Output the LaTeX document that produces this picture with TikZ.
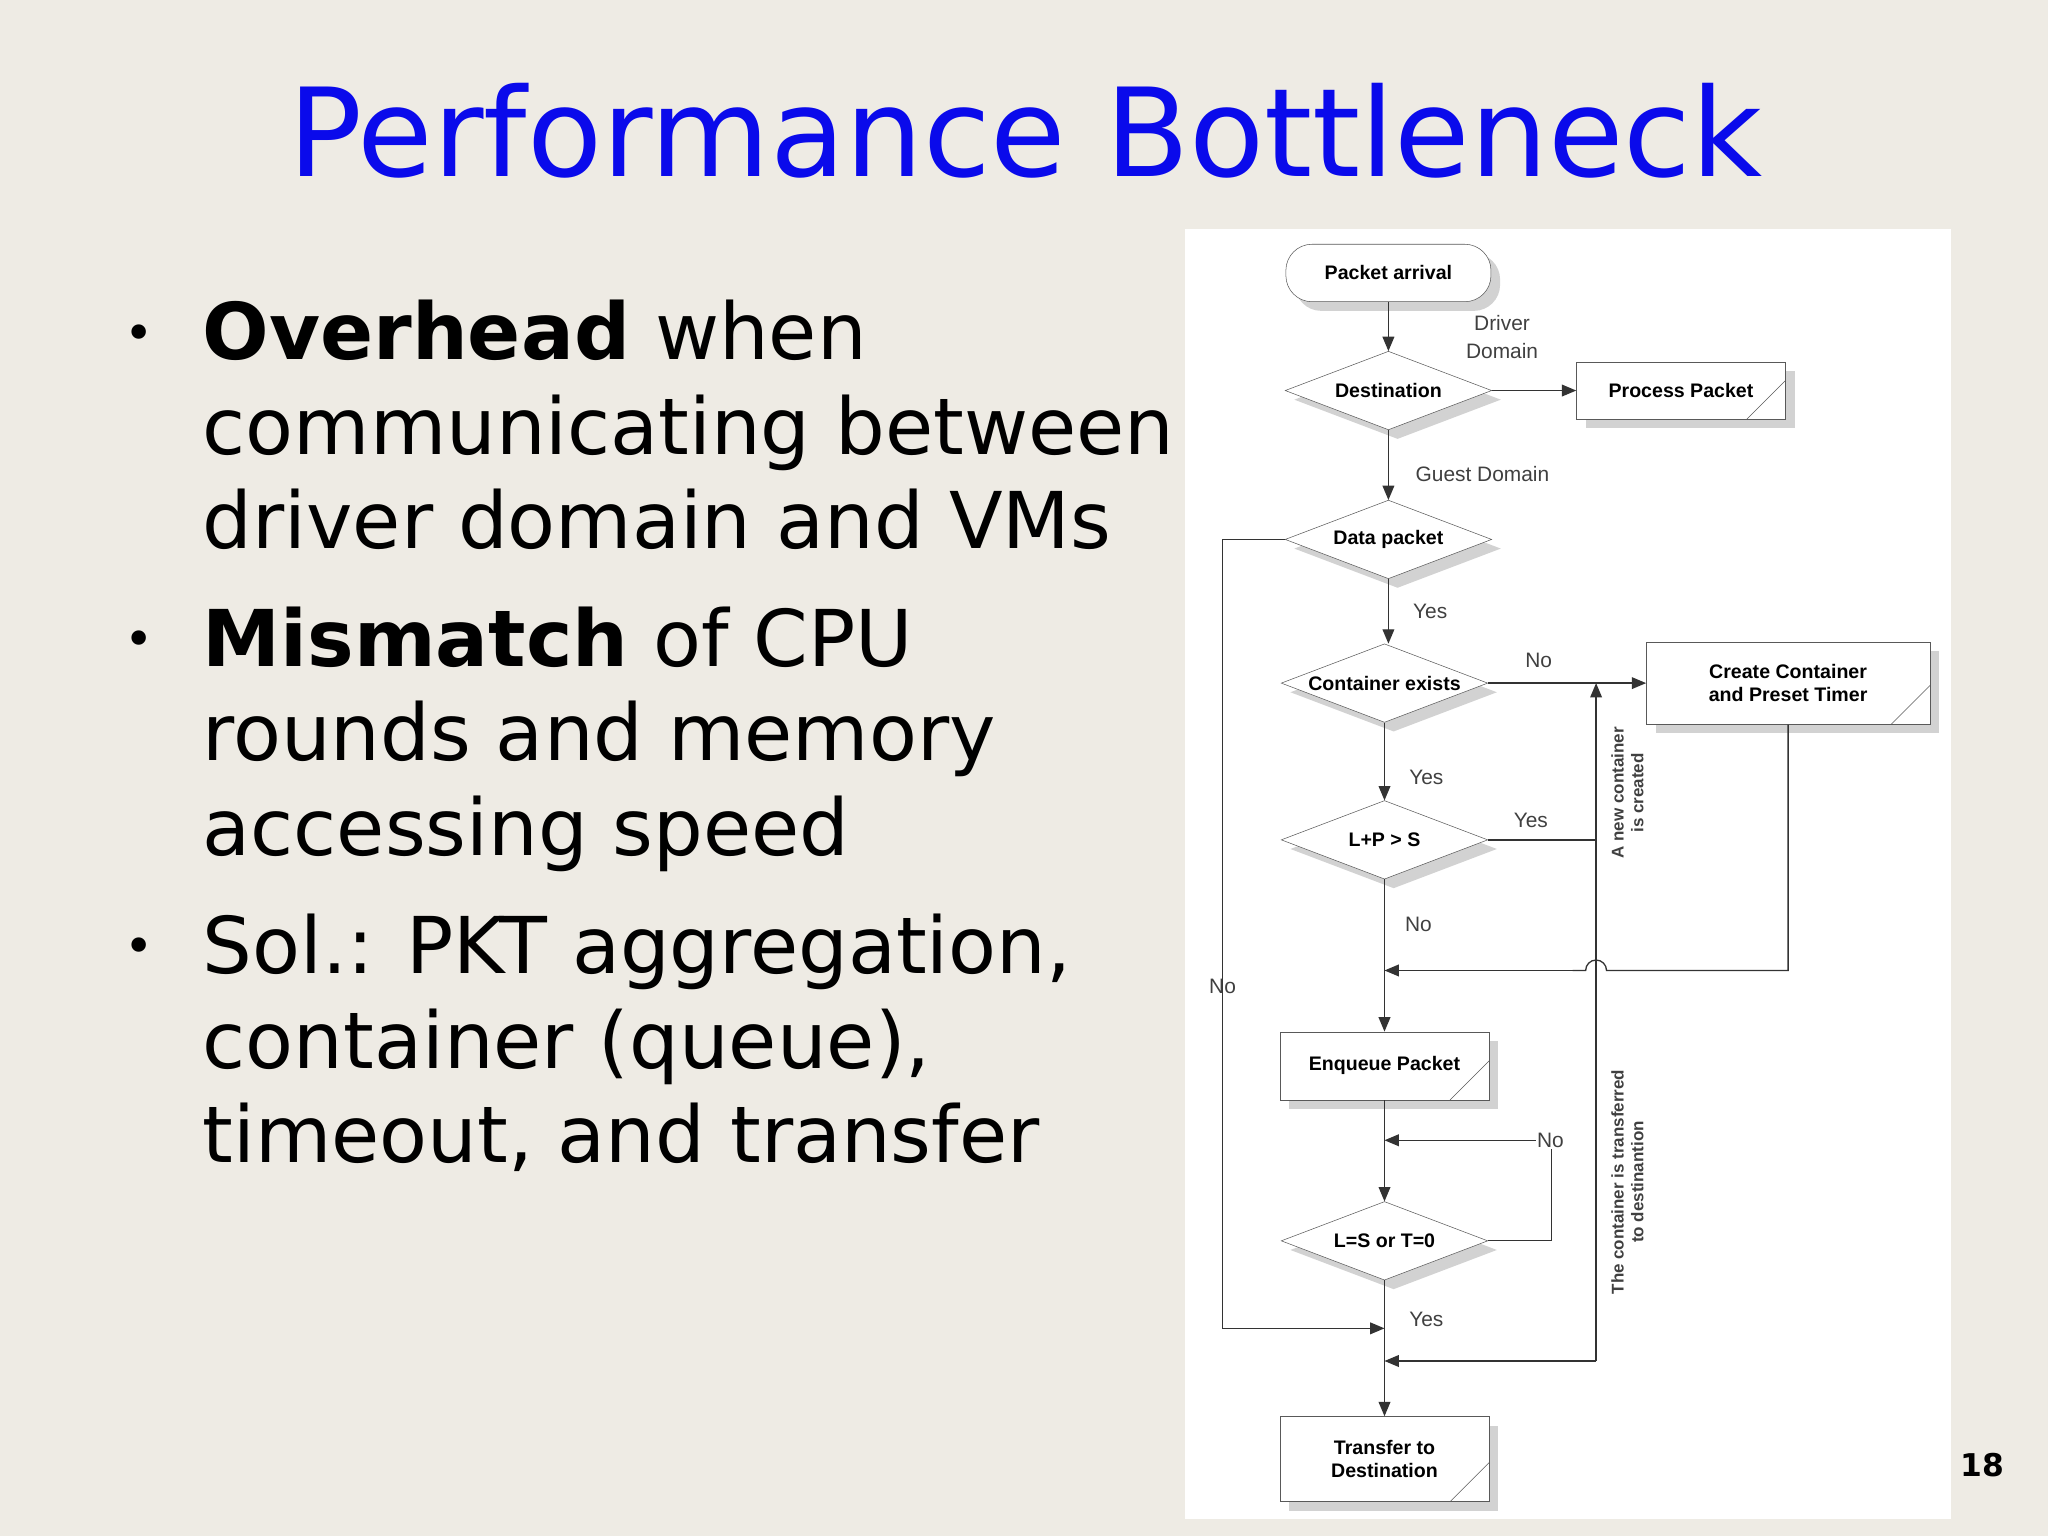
\documentclass[tikz,border=0pt]{standalone}
\usepackage{fontspec}
\setmainfont{DejaVu Sans}
\newfontfamily\fcfont{Liberation Sans}
\usetikzlibrary{shapes.geometric,shadows,arrows.meta}
\definecolor{bg}{RGB}{238,235,228}
\definecolor{titleblue}{RGB}{10,10,235}
\begin{document}
\begin{tikzpicture}[x=1pt,y=1pt,
  shad/.style={drop shadow={shadow xshift=7pt,shadow yshift=-7pt,fill=gray!35,opacity=1}},
  dia/.style={rectangle,inner sep=0pt,minimum width=158pt,minimum height=60pt,font=\fcfont\fontsize{15}{17}\selectfont\bfseries},
  box/.style={rectangle,draw=gray!70!black,fill=white,minimum width=160pt,minimum height=44pt,shad,align=center,font=\fcfont\fontsize{15}{18}\selectfont\bfseries},
  conn/.style={draw=black!80,line width=1pt},
  arr/.style={conn,-{Triangle[length=11pt,width=9pt]}},
  lab/.style={font=\fcfont\fontsize{16}{19}\selectfont,text=black!75,align=center},
  rlab/.style={font=\fcfont\fontsize{13}{15}\selectfont\bfseries,text=black!75,align=center,rotate=90}]
\fill[bg] (0,0) rectangle (1568,-1176);
\useasboundingbox (0,0) rectangle (1568,-1176);
\node[text=titleblue,font=\fontsize{94}{110}\selectfont] (title) at (785,-100) {Performance Bottleneck};
% bullets
\begin{scope}[every node/.style={anchor=base west,font=\fontsize{60}{70}\selectfont,inner sep=0pt}]
\node[font=\fontsize{38}{40}\selectfont] (b1) at (95,-268) {•};
\node (l1) at (155,-275) {\textbf{Overhead} when};
\node (l2) at (155,-348) {communicating between};
\node (l3) at (155,-420) {driver domain and VMs};
\node[font=\fontsize{38}{40}\selectfont] (b2) at (95,-503) {•};
\node (l4) at (155,-510) {\textbf{Mismatch} of CPU};
\node (l5) at (155,-582) {rounds and memory};
\node (l6) at (155,-655) {accessing speed};
\node[font=\fontsize{38}{40}\selectfont] (b3) at (95,-738) {•};
\node (l7) at (155,-745) {Sol.: PKT aggregation,};
\node (l8) at (155,-818) {container (queue),};
\node (l9) at (155,-890) {timeout, and transfer};
\end{scope}
\node[font=\fontsize{24}{26}\selectfont\bfseries] (pg) at (1518,-1122) {18};
% panel
\fill[white] (907,-175) rectangle (1494,-1163);
% diamond bodies
\foreach \x/\y in {1063/299,1063/413,1060/523,1060/643,1060/950}{
  \fill[gray!35] (\x-79+7,-\y-7) -- (\x+7,-\y+30-7) -- (\x+79+7,-\y-7) -- (\x+7,-\y-30-7) -- cycle;
  \filldraw[fill=white,draw=gray!70!black] (\x-79,-\y) -- (\x,-\y+30) -- (\x+79,-\y) -- (\x,-\y-30) -- cycle;
}
% nodes
\node[box,rounded corners=20pt,minimum width=157pt] (pa) at (1063,-209) {Packet arrival};
\node[dia] (dest) at (1063,-299) {Destination};
\node[box] (pp) at (1287,-299) {Process Packet};
\node[dia] (dp) at (1063,-413) {Data packet};
\node[dia] (ce) at (1060,-523) {Container exists};
\node[box,minimum width=217pt,minimum height=63pt] (cc) at (1369,-523) {Create Container\\and Preset Timer};
\node[dia] (lps) at (1060,-643) {L+P > S};
\node[box,minimum height=52pt] (eq) at (1060,-816) {Enqueue Packet};
\node[dia] (lst) at (1060,-950) {L=S or T=0};
\node[box,minimum height=65pt] (td) at (1060,-1117) {Transfer to\\Destination};
% folds
\foreach \n in {pp,cc,eq,td}{\draw[gray!70!black] ([xshift=-30pt]\n.south east) -- ([yshift=30pt]\n.south east);}
% coordinates
\coordinate (jn) at (1060,-743);
\coordinate (hopR) at (1230,-743);
\coordinate (jlsn) at (1060,-873);
\coordinate (rno) at (1188,-873);
\coordinate (jy) at (1060,-1017);
\coordinate (lx) at (936,-1017);
\coordinate (jt) at (1060,-1042);
\coordinate (vx) at (1222,-1042);
\coordinate (vtop) at (1222,-523);
\coordinate (lpsr) at (1222,-643);
% connectors
\draw[arr] (pa) -- (dest);
\draw[arr] (dest.east) -- (pp.west);
\draw[arr] (dest) -- (dp);
\draw[arr] (dp.south) -- (dp.south|-ce.north);
\draw[arr] (ce.east) -- (cc.west);
\draw[arr] (ce) -- (lps);
\draw[conn] (lps.east) -- (lpsr);
\draw[arr] (lps) -- (eq);
\draw[conn] (cc.south) |- (hopR) arc (0:180:8pt) -- ++(-10,0);
\draw[arr] (1212,-743) -- (jn);
\draw[arr] (eq) -- (lst);
\draw[conn] (lst.east) -| (rno);
\draw[arr] (rno) -- (jlsn);
\draw[arr] (lst) -- (td);
\draw[arr] (dp.west) -| (lx) -- (jy);
\draw[arr] (vx) -- (jt);
\draw[arr] (vx) -- (vtop);
% labels
\node[lab,font=\fcfont\fontsize{16}{21}\selectfont] (ldd) at (1150,-258) {Driver\\Domain};
\node[lab] (lgd) at (1135,-363) {Guest Domain};
\node[lab] (ly1) at (1095,-468) {Yes};
\node[lab] (ln1) at (1178,-506) {No};
\node[lab] (ly2) at (1092,-595) {Yes};
\node[lab] (ly3) at (1172,-628) {Yes};
\node[lab] (ln2) at (1086,-708) {No};
\node[lab] (ln3) at (936,-755) {No};
\node[lab,fill=white,inner sep=1pt] (ln4) at (1187,-873) {No};
\node[lab] (ly4) at (1092,-1010) {Yes};
\node[rlab] (rl1) at (1246,-607) {A new container\\is created};
\node[rlab] (rl2) at (1246,-905) {The container is transferred\\to destinantion};
\end{tikzpicture}
\end{document}
